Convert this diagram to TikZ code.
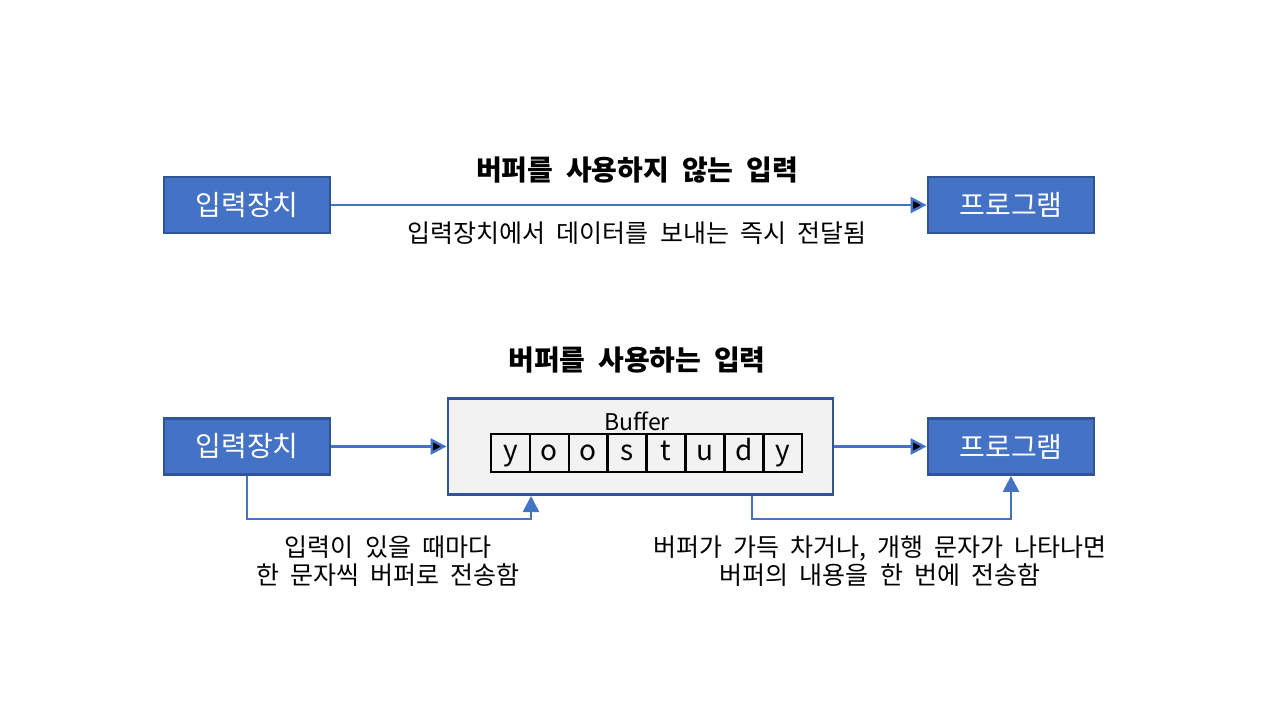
\documentclass[tikz,border=0pt]{standalone}
\usepackage{fontspec}
\setmainfont[WordSpace=2]{Noto Sans CJK KR}
\usetikzlibrary{positioning,calc,arrows.meta}
\definecolor{boxblue}{HTML}{4472C4}
\definecolor{edgeblue}{HTML}{2F5597}
\definecolor{bufgray}{HTML}{F2F2F2}
\begin{document}
\begin{tikzpicture}[x=1pt, y=-1pt, line join=miter,
    dev/.style={draw=edgeblue, fill=boxblue, line width=2.8pt, minimum width=166pt,
      minimum height=56pt, text=white, font=\fontsize{28}{30}\selectfont},
    bufbox/.style={draw=edgeblue, fill=bufgray, line width=2.8pt, minimum width=385pt,
      minimum height=96pt},
    cell/.style={draw=black, line width=2.5pt, minimum width=38.9pt, minimum height=38pt,
      inner sep=0pt, text height=20pt, text depth=6pt, font=\fontsize{28}{30}\selectfont},
    link/.style={draw=boxblue, line width=2.5pt, -{Triangle[length=16pt,width=16pt]}},
    hdr/.style={font=\bfseries\fontsize{28}{32}\selectfont},
    lbl/.style={align=center, font=\fontsize{25}{28}\selectfont}]
    \useasboundingbox (0,0) rectangle (1280,720);%
    % without buffer
    \node[hdr] (nohead) at (637,170) {버퍼를 사용하지 않는 입력};%
    \node[dev] (in1) at (247,205) {입력장치};%
    \node[dev] (prog1) at (1011,205) {프로그램};%
    \node[lbl] (nonote) at (637,233) {입력장치에서 데이터를 보내는 즉시 전달됨};%
    \path[link] (in1) edge (prog1);%
    % with buffer
    \node[hdr] (bufhead) at (637,360) {버퍼를 사용하는 입력};%
    \node[dev] (in2) at (247,446.5) {입력장치};%
    \node[dev] (prog2) at (1011,446.5) {프로그램};%
    \node[bufbox] (buf) at (640.5,446.5) {};%
    \node[font=\fontsize{23}{26}\selectfont] (buflbl) at (637,421) {Buffer};%
    \foreach \c [count=\i] in {y,o,o,s,t,u,d,y}
      \node[cell] (c\i) at (491+38.9*\i-19.45,453) {\c};%
    \coordinate (bufin) at (531,496);%
    \coordinate (bufout) at (752,496);%
    \path[link] (in2) edge (buf)
      (buf) edge (prog2);%
    \draw[link] (in2.south) -- ++(0,43) -| (bufin);%
    \draw[link] (bufout) -- ++(0,23) -| (prog2.south);%
    \node[lbl] (innote) at (388,561) {입력이 있을 때마다\\한 문자씩 버퍼로 전송함};%
    \node[lbl] (outnote) at (880,561) {버퍼가 가득 차거나, 개행 문자가 나타나면\\버퍼의 내용을 한 번에 전송함};%
\end{tikzpicture}
\end{document}
